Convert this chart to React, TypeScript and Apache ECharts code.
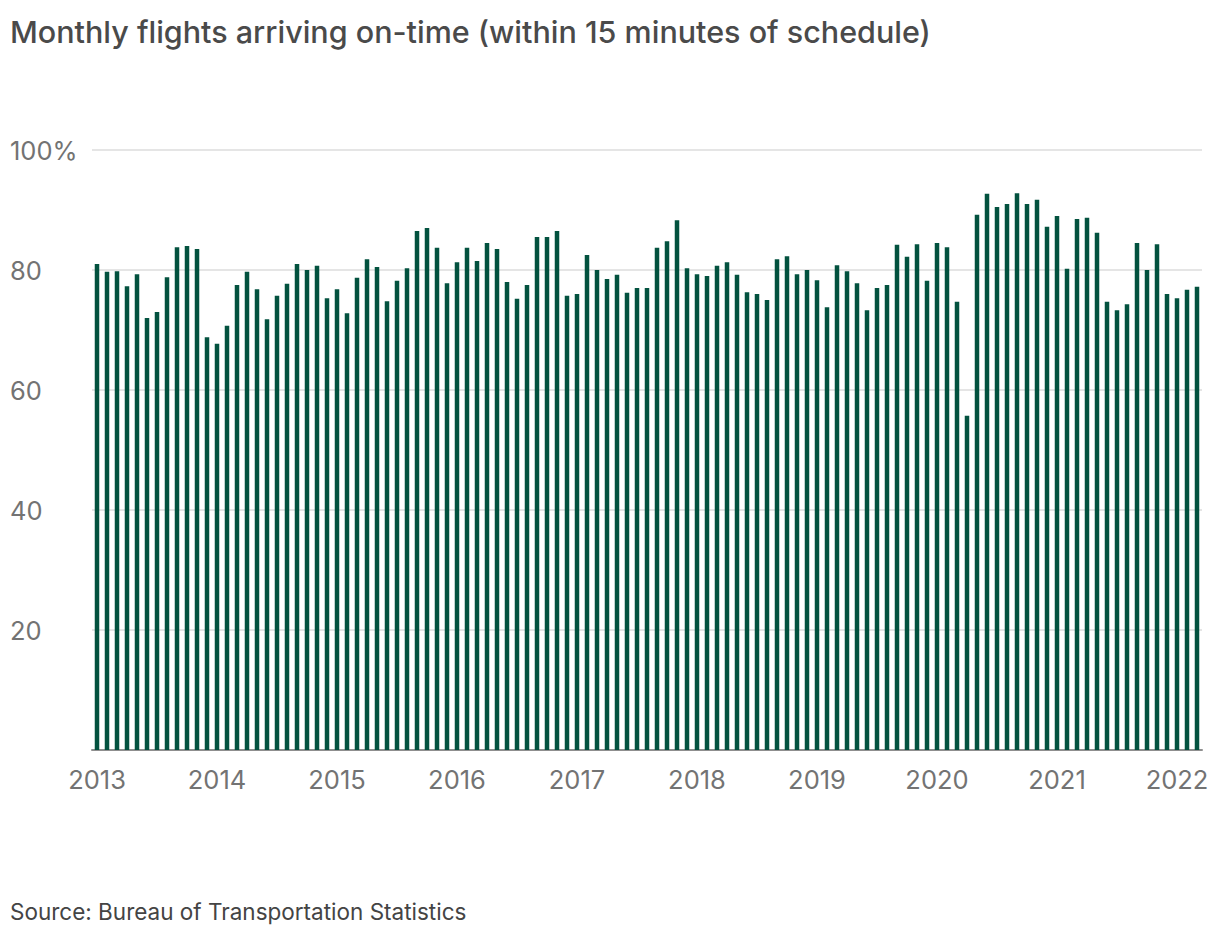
import React, { useEffect, useRef } from "react";
import * as echarts from "echarts";

const years = [2013, 2014, 2015, 2016, 2017, 2018, 2019, 2020, 2021, 2022];

const onTime2013 = [81.0, 79.7, 79.8, 77.3, 79.3, 72.0, 73.0, 78.8, 83.8, 84.0, 83.5, 68.8];
const onTime2014 = [67.7, 70.7, 77.5, 79.7, 76.8, 71.8, 75.7, 77.7, 81.0, 80.0, 80.7, 75.3];
const onTime2015 = [76.8, 72.8, 78.7, 81.8, 80.5, 74.8, 78.2, 80.3, 86.5, 87.0, 83.7, 77.8];
const onTime2016 = [81.3, 83.7, 81.5, 84.5, 83.5, 78.0, 75.2, 77.5, 85.5, 85.5, 86.5, 75.7];
const onTime2017 = [76.0, 82.5, 80.0, 78.5, 79.2, 76.2, 77.0, 77.0, 83.7, 84.8, 88.3, 80.3];
const onTime2018 = [79.3, 79.0, 80.7, 81.3, 79.2, 76.3, 76.0, 75.0, 81.8, 82.3, 79.3, 80.0];
const onTime2019 = [78.3, 73.8, 80.8, 79.8, 77.8, 73.3, 77.0, 77.5, 84.2, 82.2, 84.3, 78.2];
const onTime2020 = [84.5, 83.8, 74.7, 55.7, 89.2, 92.7, 90.5, 91.0, 92.8, 91.0, 91.7, 87.2];
const onTime2021 = [89.0, 80.2, 88.5, 88.7, 86.2, 74.7, 73.3, 74.3, 84.5, 80.0, 84.3, 76.0];
const onTime2022 = [75.3, 76.7, 77.2];

const yTicks = [0, 20, 40, 60, 80, 100];

const yearly = [onTime2013, onTime2014, onTime2015, onTime2016, onTime2017, onTime2018, onTime2019, onTime2020, onTime2021, onTime2022];

const months: string[] = [];
const values: number[] = [];
yearly.forEach((arr, yi) => {
  arr.forEach((v, mi) => {
    months.push(`${years[yi]}-${String(mi + 1).padStart(2, "0")}`);
    values.push(v);
  });
});

const FONT = "Inter, 'Noto Sans', sans-serif";

export default function App() {
  const ref = useRef<HTMLDivElement>(null);
  useEffect(() => {
    document.body.style.margin = "0";
    if (!ref.current) return;
    const chart = echarts.init(ref.current, undefined, { renderer: "svg" });
    chart.setOption({
      animation: false,
      backgroundColor: "#ffffff",
      textStyle: { fontFamily: FONT },
      title: [
        {
          text: "Monthly flights arriving on-time (within 15 minutes of schedule)",
          left: 10,
          top: 16,
          padding: 0,
          textStyle: { fontFamily: FONT, fontSize: 30.5, fontWeight: 500, color: "#4a4a4a" },
        },
        {
          text: "Source: Bureau of Transportation Statistics",
          left: 10,
          top: 900,
          padding: 0,
          textStyle: { fontFamily: FONT, fontSize: 22.5, fontWeight: 400, color: "#444444" },
        },
      ],
      grid: { left: 92, right: 18, top: 150, bottom: 192, containLabel: false },
      xAxis: {
        type: "category",
        data: months,
        boundaryGap: true,
        axisLine: { show: true, lineStyle: { color: "#8f8f8f", width: 2 } },
        axisTick: { show: false },
        axisLabel: {
          interval: 0,
          formatter: (v: string) => (v.endsWith("-01") ? v.slice(0, 4) : ""),
          color: "#737373",
          fontSize: 25.5,
          fontFamily: FONT,
          margin: 16,
        },
        splitLine: { show: false },
      },
      yAxis: {
        type: "value",
        min: yTicks[0],
        max: yTicks[yTicks.length - 1],
        interval: 20,
        axisLine: { show: false },
        axisTick: { show: false },
        axisLabel: {
          formatter: (v: number) => (v === 100 ? "100%" : v === 0 ? "" : String(v)),
          color: "#737373",
          fontSize: 25.5,
          fontFamily: FONT,
          align: "left",
          margin: 82,
        },
        splitLine: { show: true, lineStyle: { color: "#dcdcdc", width: 1.5 } },
      },
      series: [
        {
          type: "bar",
          data: values,
          barWidth: 4.5,
          itemStyle: { color: "#03523f" },
        },
      ],
    });
    return () => chart.dispose();
  }, []);
  return <div ref={ref} style={{ width: 1220, height: 942 }} />;
}
